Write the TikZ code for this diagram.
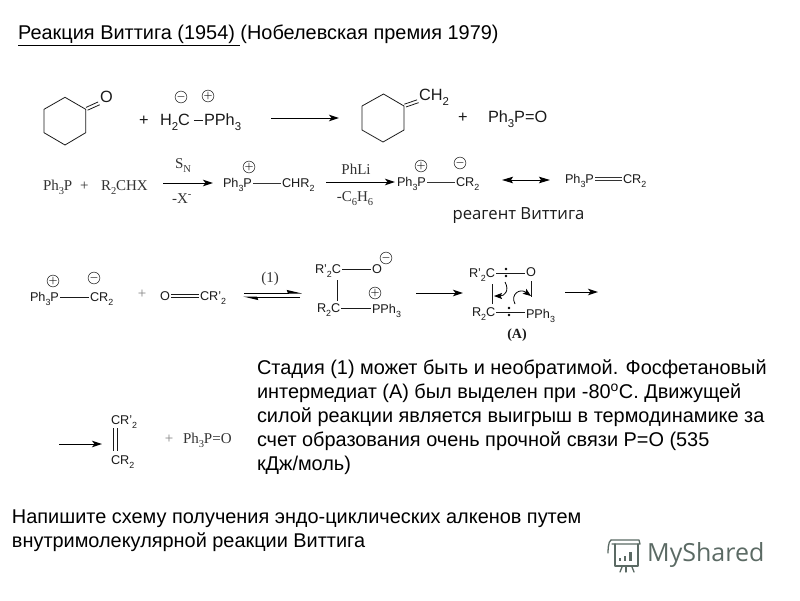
\documentclass[tikz,border=0pt]{standalone}
\usepackage{fontspec}
\setmainfont{Liberation Sans}
\newfontfamily\serifchem{Liberation Serif}
\newfontfamily\labelfont{Open Sans}
\usetikzlibrary{arrows.meta}
\newcommand{\sbs}[1]{\raisebox{-.13em}{\textsubscript{#1}}\kern-.6pt}
\definecolor{ink}{HTML}{1A1A1A}
\definecolor{soft}{HTML}{333333}
\definecolor{logoc}{HTML}{5B6A64}
\newcommand{\dbond}[5][ink]{%
  \draw[bond,draw=#1] ([shift={(#4,#5)}]#2) -- ([shift={(#4,#5)}]#3);
  \draw[bond,draw=#1] ([shift={(-#4,-#5)}]#2) -- ([shift={(-#4,-#5)}]#3);}
\tikzset{
  x=1pt,y=-1pt,
  big/.style={anchor=west,inner sep=0,outer sep=0,text=ink,font=\fontsize{16.3}{18}\selectfont,text height=11.7pt,text depth=0pt},
  med/.style={anchor=west,inner sep=0,outer sep=0,text=ink,font=\fontsize{12.7}{15}\selectfont,text height=9.1pt,text depth=0pt},
  ser/.style={anchor=west,inner sep=0,outer sep=0,text=soft,font=\serifchem\fontsize{15}{17}\selectfont,text height=10pt,text depth=0pt},
  para/.style={anchor=north west,align=left,inner sep=0,outer sep=0,text=black,font=\fontsize{19.9}{24}\selectfont},
  bond/.style={draw=ink,line width=.8pt,shorten >=1.2pt,shorten <=1.2pt},
  ring/.style={draw=ink,line width=.8pt,line join=round},
  rxn/.style={draw=black,line width=1pt,-{Stealth[length=10pt,width=6.5pt,inset=2.5pt]}},
  chg/.style={circle,draw=soft,line width=.6pt,minimum size=10.5pt,inner sep=0,outer sep=0,text=ink,font=\boldmath\fontsize{10}{10}\selectfont},
  curly/.style={draw=black,line width=.8pt,-{Stealth[length=8pt,width=6pt,inset=1.5pt]}},
  dot/.style={circle,fill=black,minimum size=2.6pt,inner sep=0,outer sep=0},
  logoline/.style={draw=logoc,line width=1.3pt,line cap=round,line join=round},
}
\begin{document}
\begin{tikzpicture}
\useasboundingbox (0,0) rectangle (800,600);
% title
\node[anchor=west,inner sep=0,font=\fontsize{19.9}{22}\selectfont] (title) at (18,35.5) {\underline{Реакция Виттига (1954)\ }(Нобелевская премия 1979)};
% row 1
\draw[ring] (65,97.3) -- (85.7,109.3) -- (85.7,132.7) -- (65,145) -- (44,132.7) -- (44,109.3) -- cycle;
\coordinate (kc) at (85.7,109.3);
\node[big] (ko) at (100,97) {O};
\dbond{kc}{ko.south west}{.8}{1.4}
\node[chg] (m1) at (181,97) {$-$};
\node[chg] (p1) at (208,96) {$+$};
\node[big] (plus1) at (139,120) {+};
\node[big] (h2c) at (160,120) {H\sbs{2}C};
\node[big] (pph3) at (204,120) {PPh\sbs{3}};
\draw[bond,shorten <=4pt,shorten >=1pt] (h2c.east) -- (pph3.west);
\coordinate (a1s) at (271,118); \coordinate (a1e) at (339,118);
\draw[rxn] (a1s) -- (a1e);
\draw[ring] (383.5,94) -- (404,106) -- (404,130) -- (383,142) -- (362,130) -- (362,106) -- cycle;
\coordinate (mc) at (404,106);
\node[big] (ch2) at (419,95) {CH\sbs{2}};
\dbond{mc}{ch2.south west}{.8}{1.4}
\node[big] (plus2) at (458,117) {+};
\node[big] (oxide) at (488,117) {Ph\sbs{3}P=O};
% row 2
\node[ser] (s1) at (43,185) {Ph\sbs{3}P};
\node[ser] (s2) at (80,185) {+};
\node[ser] (s3) at (101,185) {R\sbs{2}CHX};
\coordinate (a2s) at (163,183); \coordinate (a2e) at (213,183);
\draw[rxn] (a2s) -- (a2e);
\node[ser,anchor=center] (sn) at (183,163) {S\sbs{N}};
\node[ser,anchor=center] (xm) at (182,198) {-X\textsuperscript{-}};
\node[med] (s4) at (223,183) {Ph\sbs{3}P};
\node[chg,minimum size=9.5pt] (p2) at (249,167) {$+$};
\node[med] (s5) at (282,183) {CHR\sbs{2}};
\draw[bond,draw=soft] (s4.east) -- (s5.west);
\coordinate (a3s) at (326,182); \coordinate (a3e) at (395,182);
\draw[rxn] (a3s) -- (a3e);
\node[ser,anchor=center] (phli) at (356,169) {PhLi};
\node[ser,anchor=center] (c6h6) at (355,196) {-C\sbs{6}H\sbs{6}};
\node[med] (s6) at (397,182) {Ph\sbs{3}P};
\node[chg,minimum size=9.5pt] (p3) at (421,166) {$+$};
\node[chg,minimum size=9.5pt] (m3) at (460,163) {$-$};
\node[med] (s7) at (456,182) {CR\sbs{2}};
\draw[bond,draw=soft] (s6.east) -- (s7.west);
\coordinate (a4s) at (502,180); \coordinate (a4e) at (550,180);
\draw[draw=black,line width=1pt,{Stealth[length=11pt,width=6.5pt,inset=2pt]}-{Stealth[length=11pt,width=6.5pt,inset=2pt]}] (a4s) -- (a4e);
\node[med] (s8) at (565,179) {Ph\sbs{3}P};
\node[med] (s9) at (623,179) {CR\sbs{2}};
\dbond[soft]{s8.east}{s9.west}{0}{1.3}
\node[anchor=center,inner sep=0,text=ink,font=\labelfont\fontsize{16.7}{18}\selectfont] (wit) at (518.5,216) {реагент Виттига};
% row 3
\node[med] (t1) at (30,297) {Ph\sbs{3}P};
\node[chg,minimum size=9.5pt] (p4) at (53,281) {$+$};
\node[chg,minimum size=9.5pt] (m4) at (94,278) {$-$};
\node[med] (t2) at (90,297) {CR\sbs{2}};
\draw[bond] (t1.east) -- (t2.west);
\node[ser,anchor=center,text=gray] (t3) at (142,293) {+};
\node[med] (t4) at (160,296) {O};
\node[med] (t5) at (200,296) {CR'\sbs{2}};
\dbond{t4.east}{t5.west}{0}{1.3}
\node[ser,anchor=center] (one) at (270,277) {(1)};
\coordinate (e1s) at (244,293); \coordinate (e1e) at (302,293);
\coordinate (e2s) at (300,297); \coordinate (e2e) at (243,297);
\draw[draw=black,line width=1pt,-{Stealth[harpoon,length=13pt,width=6pt,inset=1pt]}] (e1s) -- (e1e);
\draw[draw=black,line width=1pt,-{Stealth[harpoon,length=13pt,width=6pt,inset=1pt]}] (e2s) -- (e2e);
\node[med] (u1) at (315,269) {R'\sbs{2}C};
\node[med] (u2) at (372,269) {O};
\node[chg,minimum size=9.5pt] (m5) at (386,258) {$-$};
\draw[bond] (u1.east) -- (u2.west);
\node[med] (u3) at (317,308) {R\sbs{2}C};
\node[med] (u4) at (372,309) {PPh\sbs{3}};
\node[chg,minimum size=9.5pt] (p5) at (375,293) {$+$};
\draw[bond] (u3.east) -- (u3.east -| u4.west);
\coordinate (uv1) at (337,279); \coordinate (uv2) at (337,302);
\draw[bond] (uv1) -- (uv2);
\coordinate (a5s) at (416,293); \coordinate (a5e) at (463,293);
\draw[rxn] (a5s) -- (a5e);
\node[med] (v1) at (469,273) {R'\sbs{2}C};
\node[med] (v2) at (526,272) {O};
\draw[bond] (v1.east) -- (v1.east -| v2.west);
\node[med] (v3) at (472,312) {R\sbs{2}C};
\node[med] (v4) at (526,314) {PPh\sbs{3}};
\draw[bond] (v3.east) -- (v3.east -| v4.west);
\coordinate (vv1) at (492,283); \coordinate (vv2) at (492,305);
\coordinate (vv3) at (531,280); \coordinate (vv4) at (531,298);
\draw[bond] (vv1) -- (vv2);
\draw[bond] (vv3) -- (vv4);
\node[dot] (d1) at (506,269) {}; \node[dot] (d2) at (506,276) {};
\node[dot] (d3) at (509,308) {}; \node[dot] (d4) at (509,315) {};
\coordinate (c1s) at (505,282); \coordinate (c1e) at (494,296);
\draw[curly] (c1s) .. controls (510,291) and (504,296) .. (c1e);
\coordinate (c2s) at (515,304); \coordinate (c2e) at (531,296);
\draw[curly] (c2s) .. controls (510,294) and (520,288) .. (c2e);
\node[anchor=center,inner sep=0,text=ink,font=\serifchem\bfseries\fontsize{14}{16}\selectfont] (aa) at (517,335) {(A)};
\coordinate (a6s) at (565,292); \coordinate (a6e) at (598,292);
\draw[rxn] (a6s) -- (a6e);
% row 4
\coordinate (a7s) at (59,444); \coordinate (a7e) at (102,444);
\draw[rxn] (a7s) -- (a7e);
\node[med] (w1) at (111,420) {CR'\sbs{2}};
\node[med] (w2) at (111,460) {CR\sbs{2}};
\coordinate (wa) at (115.5,427); \coordinate (wb) at (115.5,452);
\dbond{wa}{wb}{2.2}{0}
\node[ser,anchor=center,text=gray] (w3) at (169,438) {+};
\node[ser] (w4) at (183,438) {Ph\sbs{3}P=O};
% text
\node[para] (txt) at (257,360) {Стадия (1) может быть и необратимой. Фосфетановый\\интермедиат (А) был выделен при -80\textsuperscript{o}С. Движущей\\силой реакции является выигрыш в термодинамике за\\счет образования очень прочной связи Р=О (535\\кДж/моль)};
\node[para] (q) at (12,510) {Напишите схему получения эндо-циклических алкенов путем\\внутримолекулярной реакции Виттига};
% logo
\draw[logoline] (611,540) -- (639,540) -- (640,544) -- (612,544);
\draw[logoline] (611,540) .. controls (608,541) and (608,552) .. (608,553);
\draw[logoline] (615,544) -- (615,566) -- (638,566) -- (638,544);
\draw[logoline] (622,567) -- (620,572);
\draw[logoline] (626,567) -- (626,572);
\draw[logoline] (632,567) -- (634,572);
\fill[logoc] (619,558) rectangle (621,561);
\fill[logoc] (624,556) rectangle (626,561);
\fill[logoc] (629,552) rectangle (632,561);
\node[anchor=west,inner sep=0,text=logoc,font=\labelfont\fontsize{25}{28}\selectfont] (logo) at (647,555) {MyShared};
\end{tikzpicture}
\end{document}
